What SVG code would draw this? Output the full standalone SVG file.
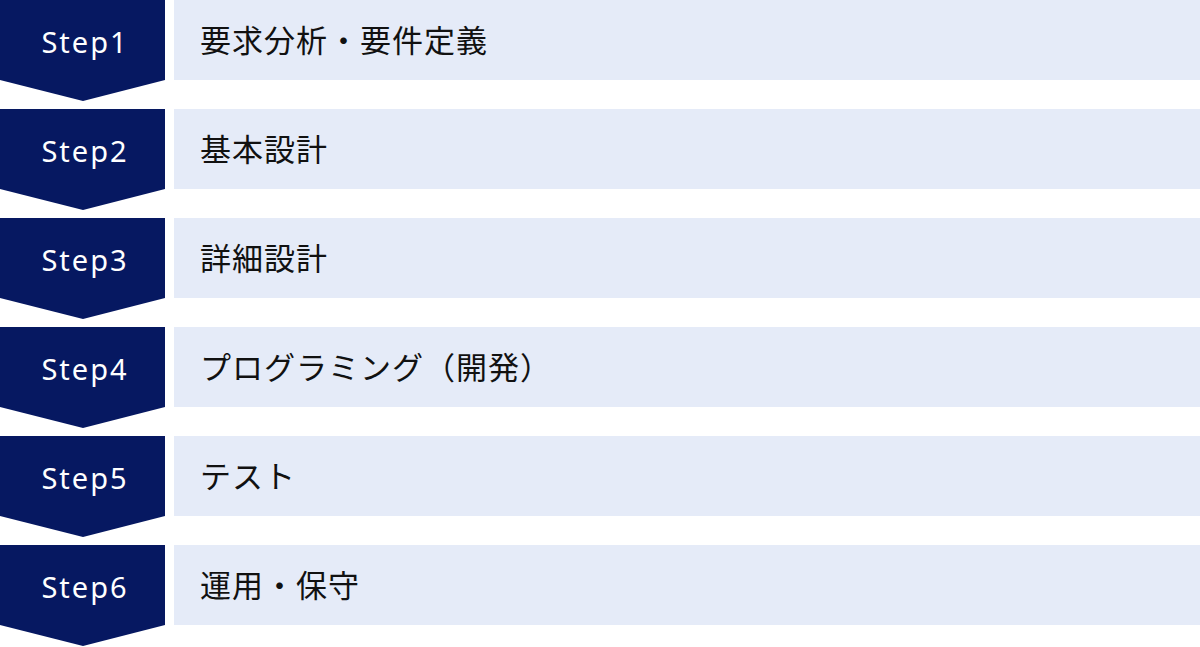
<svg xmlns="http://www.w3.org/2000/svg" width="1200" height="647" viewBox="0 0 1200 647">
<defs>
<style>
.chev{fill:#061861}
.box{fill:#e5ebf8}
.step{font-family:"Noto Sans","Open Sans",sans-serif;font-size:29px;font-weight:400;fill:#ffffff;text-anchor:middle;letter-spacing:2px}
.label{font-family:"Noto Sans CJK JP","Noto Sans CJK SC",sans-serif;font-size:31px;fill:#111111;letter-spacing:1px}
</style>
</defs>
<rect width="1200" height="647" fill="#ffffff"/>
<g id="step1" transform="translate(0,0)">
<polygon class="chev" points="0,0 165,0 165,80 83,101 0,80"/>
<rect class="box" x="174" y="0" width="1026" height="80"/>
<text class="step" x="85" y="53">Step1</text>
<text class="label" x="200" y="52">要求分析・要件定義</text>
</g>
<g id="step2" transform="translate(0,109)">
<polygon class="chev" points="0,0 165,0 165,80 83,101 0,80"/>
<rect class="box" x="174" y="0" width="1026" height="80"/>
<text class="step" x="85" y="53">Step2</text>
<text class="label" x="200" y="52">基本設計</text>
</g>
<g id="step3" transform="translate(0,218)">
<polygon class="chev" points="0,0 165,0 165,80 83,101 0,80"/>
<rect class="box" x="174" y="0" width="1026" height="80"/>
<text class="step" x="85" y="53">Step3</text>
<text class="label" x="200" y="52">詳細設計</text>
</g>
<g id="step4" transform="translate(0,327)">
<polygon class="chev" points="0,0 165,0 165,80 83,101 0,80"/>
<rect class="box" x="174" y="0" width="1026" height="80"/>
<text class="step" x="85" y="53">Step4</text>
<text class="label" x="200" y="52">プログラミング（開発）</text>
</g>
<g id="step5" transform="translate(0,436)">
<polygon class="chev" points="0,0 165,0 165,80 83,101 0,80"/>
<rect class="box" x="174" y="0" width="1026" height="80"/>
<text class="step" x="85" y="53">Step5</text>
<text class="label" x="200" y="52">テスト</text>
</g>
<g id="step6" transform="translate(0,545)">
<polygon class="chev" points="0,0 165,0 165,80 83,101 0,80"/>
<rect class="box" x="174" y="0" width="1026" height="80"/>
<text class="step" x="85" y="53">Step6</text>
<text class="label" x="200" y="52">運用・保守</text>
</g>
<g id="connectors"></g>
</svg>
